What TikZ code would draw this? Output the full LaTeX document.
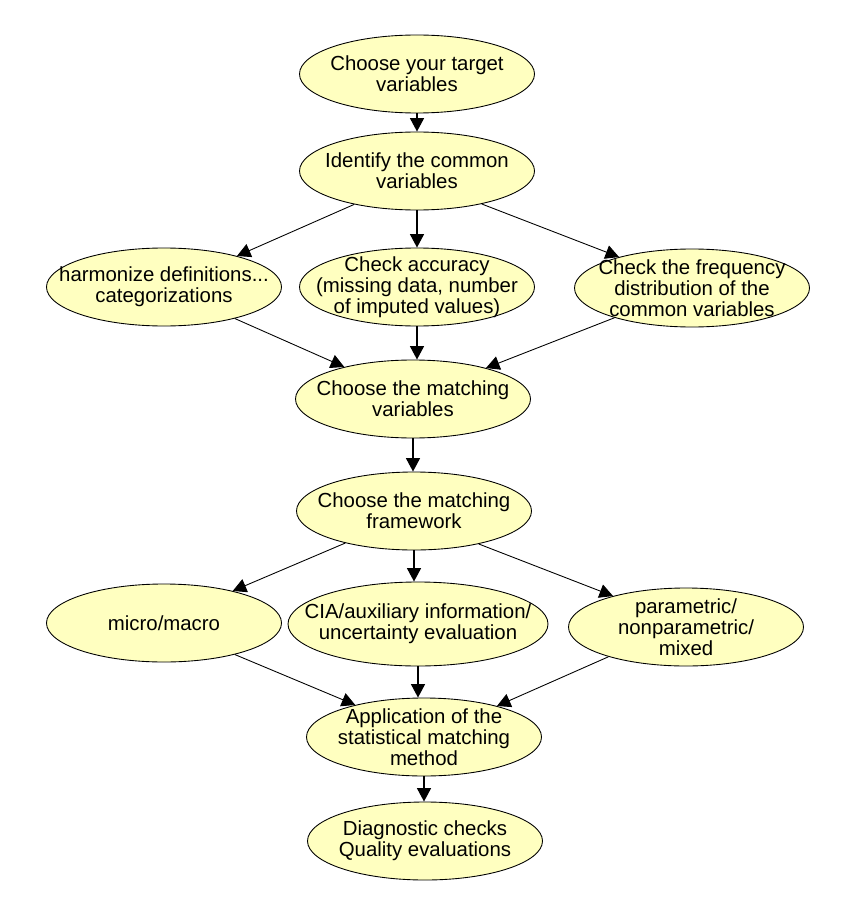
\documentclass[tikz,border=0pt]{standalone}
\usepackage{fontspec}
\setmainfont{Liberation Sans}
\usetikzlibrary{shapes.geometric,arrows.meta}
\definecolor{paleyellow}{RGB}{255,255,192}

\begin{document}
\begin{tikzpicture}[>={Triangle[length=2.7mm,width=2.8mm]},
  stepnode/.style={ellipse, draw, line width=0.5pt, fill=paleyellow,
    minimum width=4.7cm, minimum height=1.56cm, inner xsep=-0.8cm, inner ysep=-0.3cm,
    align=center, font=\fontsize{11.6}{11.8}\selectfont},
  flow/.style={->, line width=0.5pt},
  downflow/.style={->, line width=0.9pt}]

\useasboundingbox (0,0) rectangle (17.28,-17.96);

% Colonna centrale
\node[stepnode] (target) at (8.34,-1.48) {Choose your target\\variables};
\node[stepnode] (common) at (8.34,-3.42) {Identify the common\\variables};
\node[stepnode] (accuracy) at (8.34,-5.74) {Check accuracy\\(missing data, number\\of imputed values)};
\node[stepnode] (matchvar) at (8.26,-7.98) {Choose the matching\\variables};
\node[stepnode] (framework) at (8.28,-10.22) {Choose the matching\\framework};
\node[stepnode, minimum width=5.2cm, minimum height=1.68cm] (cia) at (8.36,-12.48)
  {CIA/auxiliary information/\\uncertainty evaluation};
\node[stepnode] (application) at (8.48,-14.74) {Application of the\\statistical matching\\method};
\node[stepnode] (diagnostic) at (8.5,-16.82) {Diagnostic checks\\Quality evaluations};

% Rami laterali
\node[stepnode] (harmonize) at (3.28,-5.74) {harmonize definitions...\\categorizations};
\node[stepnode] (freq) at (13.84,-5.76) {Check the frequency\\distribution of the\\common variables};
\node[stepnode] (micro) at (3.28,-12.46) {micro/macro};
\node[stepnode] (param) at (13.72,-12.54) {parametric/\\nonparametric/\\mixed};

% Frecce verticali
\foreach \a/\b in {target/common, common/accuracy, accuracy/matchvar, matchvar/framework,
                   framework/cia, cia/application, application/diagnostic} {
  \draw[downflow] (\a.south) -- (\a.south |- \b.north);
}

% Frecce oblique
\foreach \a/\b/\s/\e in {common/harmonize/208/23, common/freq/333/157,
                         harmonize/matchvar/336/155, freq/matchvar/201/23,
                         framework/micro/205/25, framework/param/333/157,
                         micro/application/336/155, param/application/201/23} {
  \draw[flow] (\a.\s) -- (\b.\e);
}

\end{tikzpicture}
\end{document}
